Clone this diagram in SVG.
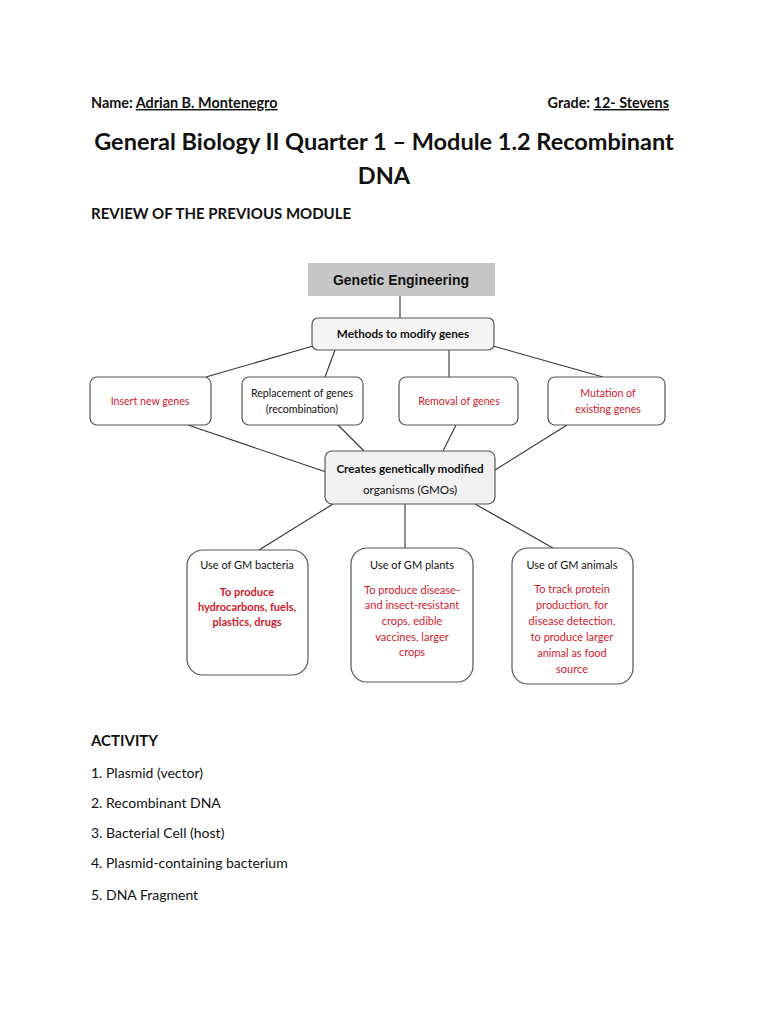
<svg xmlns="http://www.w3.org/2000/svg" width="768" height="1024" viewBox="0 0 768 1024">
<style>
text{font-family:Lato,"Open Sans","Liberation Sans",sans-serif;fill:#111}
.b{font-weight:bold}
.hdr{font-size:14.4px;font-weight:bold}
.title{font-size:23.5px;font-weight:bold;text-anchor:middle}
.sec{font-size:15px;font-weight:bold}
.item{font-size:14px}
.box{stroke:#555;stroke-width:1.2;fill:#fff}
.lbl{font-size:10.6px;text-anchor:middle}
.red{fill:#d0202e}
.small{font-size:11px;text-anchor:middle}
.con line{stroke:#333;stroke-width:1.1}
</style>
<rect width="768" height="1024" fill="#fff"/>
<g id="header">
<text x="91" y="108" class="hdr">Name: <tspan text-decoration="underline">Adrian B. Montenegro </tspan></text>
<text x="669" y="108" class="hdr" text-anchor="end">Grade: <tspan text-decoration="underline">12- Stevens</tspan></text>
<text x="384" y="150" class="title">General Biology II Quarter 1 – Module 1.2 Recombinant</text>
<text x="384" y="184" class="title">DNA</text>
<text x="91" y="219" class="sec">REVIEW OF THE PREVIOUS MODULE</text>
</g>
<g class="con" id="connectors">
<line x1="400" y1="296" x2="400" y2="318"/>
<line x1="313" y1="346" x2="206" y2="377"/>
<line x1="335" y1="350" x2="325" y2="377"/>
<line x1="449" y1="350" x2="449" y2="377"/>
<line x1="493" y1="346" x2="603" y2="377"/>
<line x1="188" y1="425" x2="326" y2="472"/>
<line x1="338" y1="425" x2="364" y2="451"/>
<line x1="456" y1="425" x2="443" y2="451"/>
<line x1="567" y1="425" x2="495" y2="470"/>
<line x1="333" y1="504" x2="259" y2="550"/>
<line x1="405" y1="504" x2="405" y2="548"/>
<line x1="475" y1="504" x2="553" y2="548"/>
</g>
<g id="genetic-engineering">
<rect x="308" y="263" width="187" height="33" fill="#c6c6c6"/>
<text x="401" y="285" style="font-family:'Liberation Sans',Arial,sans-serif;font-size:14px;font-weight:bold;text-anchor:middle" fill="#222">Genetic Engineering</text>
</g>
<g id="methods">
<rect x="312" y="318" width="182" height="32" rx="6" class="box" style="fill:#f5f5f5"/>
<text x="403" y="338" class="lbl b" style="font-size:11.7px">Methods to modify genes</text>
</g>
<g id="insert">
<rect x="90" y="377" width="121" height="48" rx="7" class="box"/>
<text x="150" y="405" class="lbl red">Insert new genes</text>
</g>
<g id="replacement">
<rect x="242" y="377" width="121" height="48" rx="7" class="box"/>
<text x="302" y="397" class="lbl">Replacement of genes</text>
<text x="302" y="413" class="lbl">(recombination)</text>
</g>
<g id="removal">
<rect x="399" y="377" width="119" height="48" rx="7" class="box"/>
<text x="459" y="405" class="lbl red">Removal of genes</text>
</g>
<g id="mutation">
<rect x="548" y="377" width="117" height="48" rx="7" class="box"/>
<text x="608" y="397" class="lbl red">Mutation of</text>
<text x="608" y="413" class="lbl red">existing genes</text>
</g>
<g id="gmo">
<rect x="325" y="451" width="170" height="53" rx="7" class="box" style="fill:#f1f1f1"/>
<text x="410" y="473" class="lbl b" style="font-size:11.7px">Creates genetically modified</text>
<text x="410" y="494" class="lbl" style="font-size:11.7px">organisms (GMOs)</text>
</g>
<g id="bacteria">
<rect x="187" y="550" width="121" height="125" rx="16" class="box"/>
<text x="247" y="569" class="small">Use of GM bacteria</text>
<text x="247" y="596" class="small red b">To produce</text>
<text x="247" y="611" class="small red b">hydrocarbons, fuels,</text>
<text x="247" y="626" class="small red b">plastics, drugs</text>
</g>
<g id="plants">
<rect x="351" y="548" width="122" height="134" rx="16" class="box"/>
<text x="412" y="569" class="small">Use of GM plants</text>
<text x="412" y="594" class="small red">To produce disease-</text>
<text x="412" y="609" class="small red">and insect-resistant</text>
<text x="412" y="625" class="small red">crops, edible</text>
<text x="412" y="641" class="small red">vaccines, larger</text>
<text x="412" y="656" class="small red">crops</text>
</g>
<g id="animals">
<rect x="512" y="548" width="121" height="136" rx="16" class="box"/>
<text x="572" y="569" class="small">Use of GM animals</text>
<text x="572" y="593" class="small red">To track protein</text>
<text x="572" y="609" class="small red">production, for</text>
<text x="572" y="625" class="small red">disease detection,</text>
<text x="572" y="641" class="small red">to produce larger</text>
<text x="572" y="657" class="small red">animal as food</text>
<text x="572" y="673" class="small red">source</text>
</g>
<g id="activity">
<text x="91" y="746" class="sec">ACTIVITY</text>
<text x="91" y="778" class="item">1. Plasmid (vector)</text>
<text x="91" y="808" class="item">2. Recombinant DNA</text>
<text x="91" y="838" class="item">3. Bacterial Cell (host)</text>
<text x="91" y="868" class="item">4. Plasmid-containing bacterium</text>
<text x="91" y="900" class="item">5. DNA Fragment</text>
</g>
</svg>
